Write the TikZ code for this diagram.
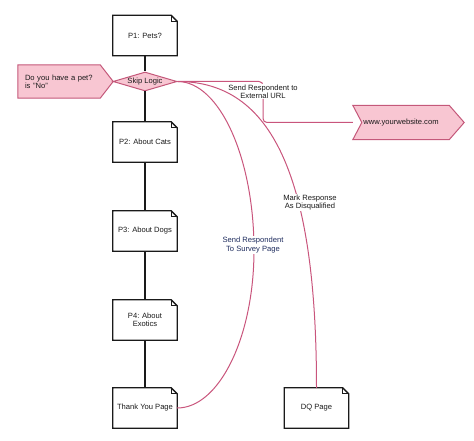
\documentclass[tikz,border=0pt]{standalone}
\usepackage{fontspec}
\setmainfont{Liberation Sans}
\usetikzlibrary{shapes.geometric,backgrounds}
\definecolor{pinkfill}{HTML}{F8C6D2}
\definecolor{pinkedge}{HTML}{C4587A}
\definecolor{pinkline}{HTML}{C9557C}
\definecolor{navy}{HTML}{1E2C5E}
\definecolor{ink}{HTML}{1A1A1A}
\tikzset{
  x=1pt, y=-1pt,
  every node/.style={font=\fontsize{7.6}{8.4}\selectfont, text=ink},
  pagebox/.style={rectangle, minimum width=64pt, minimum height=40pt, inner sep=1pt, align=center},
  pageedge/.style={draw=ink, line width=1.3pt, line join=miter},
  foldedge/.style={draw=ink, line width=0.7pt},
  flow/.style={draw=ink, line width=1.4pt},
  pinkconn/.style={draw=pinkline, line width=1pt},
  skipbox/.style={diamond, aspect=3.4, minimum width=64pt, minimum height=19pt, inner sep=0pt, fill=pinkfill, draw=pinkedge, line width=1pt},
  connlabel/.style={fill=white, inner sep=1pt, align=center},
}
\begin{document}
\begin{tikzpicture}
\useasboundingbox (0,0) rectangle (474,441);

% page nodes
\node[pagebox] (p1) at (145,35.5) {P1: Pets?};
\node[pagebox] (p2) at (145,142) {P2: About Cats};
\node[pagebox] (p3) at (145,231) {P3: About Dogs};
\node[pagebox] (p4) at (145,320) {P4: About\\Exotics};
\node[pagebox] (ty) at (145,408) {Thank You Page};
\node[pagebox] (dq) at (316.5,408) {DQ Page};

\foreach \n in {p1,p2,p3,p4,ty,dq}{
  \draw[pageedge] (\n.south west) -- (\n.north west) -- ([xshift=-6pt]\n.north east)
    -- ([yshift=-6pt]\n.north east) -- (\n.south east) -- cycle;
  \draw[foldedge] ([xshift=-6pt]\n.north east) -- ([xshift=-6pt,yshift=-6pt]\n.north east)
    -- ([yshift=-6pt]\n.north east);
}

% skip logic diamond
\node[skipbox] (skip) at (145,81.5) {Skip Logic};

% callout on the left
\node[rectangle, minimum height=33pt, inner xsep=7pt, inner ysep=0pt, text width=68pt, align=left] (pet) at (59,81.5) {Do you have a pet?\\is "No"};

% url target
\node[rectangle, minimum width=96pt, minimum height=34pt, inner sep=0pt] (url) at (401,122.5) {www.yourwebsite.com};

\begin{pgfonlayer}{background}
  \filldraw[fill=pinkfill, draw=pinkedge, line width=1pt, line join=miter]
    (pet.north west) -- (pet.north east) -- ([xshift=13pt]pet.east) -- (pet.south east) -- (pet.south west) -- cycle;
  \filldraw[fill=pinkfill, draw=pinkedge, line width=1pt, line join=miter]
    (url.north west) -- (url.north east) -- ([xshift=15pt]url.east) -- (url.south east)
    -- (url.south west) -- ([xshift=9pt]url.west) -- cycle;
\end{pgfonlayer}

% black flow connectors
\draw[flow] (p1) -- (skip);
\draw[flow] (skip) -- (p2);
\draw[flow] (p2) -- (p3);
\draw[flow] (p3) -- (p4);
\draw[flow] (p4) -- (ty);

% pink connectors
\coordinate (extcorner) at (263,122.5);
\draw[pinkconn, rounded corners=4pt] (skip.east) -| (extcorner) -- (url.west);
\node[connlabel] (extlab) at (263,91.5) {Send Respondent to\\External URL};

\coordinate (svmid) at (254,250);
\draw[pinkconn] (skip.east) .. controls +(42,0) and +(0,-92) .. (svmid)
  .. controls +(0,87) and +(42,0) .. (ty.east);
\node[connlabel, text=navy] (svlab) at (253,245) {Send Respondent\\To Survey Page};

\draw[pinkconn] (skip.east) .. controls +(95,0) and +(0,-210) .. (dq.north);
\node[connlabel] (dqlab) at (310,202.5) {Mark Response\\As Disqualified};
\end{tikzpicture}
\end{document}
